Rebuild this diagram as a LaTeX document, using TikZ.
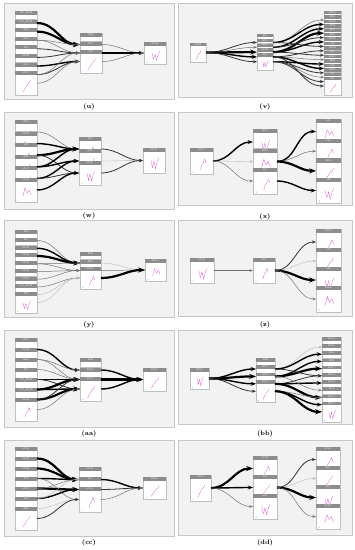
\documentclass[tikz,border=0pt]{standalone}
\usetikzlibrary{arrows.meta}
\definecolor{magp}{RGB}{220,70,200}
\definecolor{cyp}{RGB}{60,160,230}
\definecolor{hdrg}{RGB}{140,140,140}
\def\hh{4}
\tikzset{
 gbox/.style={draw=black!25, line width=0.3pt, fill=white, inner sep=0pt, outer sep=0pt},
 ghdr/.style={fill=hdrg, inner sep=0pt, outer sep=0pt, minimum height=\hh pt, text=white,
   font=\fontsize{2.3}{2.5}\selectfont\sffamily, text height=1.6pt, text depth=0.3pt},
 magplot/.style={draw=magp, line width=0.4pt, dash pattern=on 0.6pt off 0.5pt},
 panel/.style={fill=black!5, draw=black!22, line width=0.7pt},
 captext/.style={font=\fontsize{6.5}{7.5}\selectfont\bfseries, inner sep=0pt},
 edgebase/.style={-{Stealth[length=2.6pt 1.9]}},
 edgeA/.style={edgebase, line width=0.35pt, draw=black!30},
 edgeB/.style={edgebase, line width=0.5pt, draw=black!55},
 edgeC/.style={edgebase, line width=0.8pt, draw=black!80},
 edgeD/.style={edgebase, line width=1.4pt, draw=black},
 edgeE/.style={edgebase, line width=2.2pt, draw=black},
}
\newcommand\gplot[4]{%
 \begin{scope}[shift={(#1.south west)}, xscale={#3/22}, yscale={(#4-\hh)/20}]
  \ifcase#2\relax
   \draw[magplot] (8,-3)--(9.5,-6)--(11,-8)--(12.5,-11)--(14,-12)--(15.5,-15);
  \or
   \draw[magplot] (8,-12)--(9.5,-5)--(11,-11)--(12.5,-4)--(14,-10)--(15.5,-14);
  \or
   \draw[magplot] (8,-6)--(10,-14)--(12,-9)--(14,-12)--(16,-7);
  \else
   \draw[magplot] (10,-4)--(11,-8)--(12.5,-10)--(14,-14)--(15.5,-10);
  \fi
  \fill[cyp] (3,-1.8) circle[radius=0.45];
 \end{scope}}
\newcommand\gnode[7]{%
 \node[gbox, minimum width=#4pt, minimum height=#5pt, anchor=north west] (#1) at (#2,#3) {};
 \gplot{#1}{#7}{#4}{#5}
 \node[ghdr, minimum width=#4pt, anchor=north west] at (#1.north west) {#6};}
\newcommand\gedge[3]{\draw[#1] (#2.east) to[out=0,in=180] (#3.west);}
\begin{document}
\begin{tikzpicture}[x=1pt, y=-1pt]
\useasboundingbox (0,0) rectangle (355,550);
\fill[white] (0,0) rectangle (355,550);
% panels
\draw[panel] (4,3) rectangle (174,99);
\draw[panel] (178,3) rectangle (352,97);
\draw[panel] (4,112) rectangle (174,209);
\draw[panel] (178,112) rectangle (352,205);
\draw[panel] (4,220) rectangle (174,317);
\draw[panel] (178,220) rectangle (352,316);
\draw[panel] (4,330) rectangle (174,427);
\draw[panel] (178,330) rectangle (352,424);
\draw[panel] (4,440) rectangle (174,536);
\draw[panel] (178,440) rectangle (352,535);
\node[captext] (cu) at (89,107) {(u)};
\node[captext] (cv) at (265,107) {(v)};
\node[captext] (cw) at (89,216) {(w)};
\node[captext] (cx) at (265,217) {(x)};
\node[captext] (cy) at (89,325) {(y)};
\node[captext] (cz) at (265,325) {(z)};
\node[captext] (caa) at (89,434) {(aa)};
\node[captext] (cbb) at (265,434) {(bb)};
\node[captext] (ccc) at (89,543) {(cc)};
\node[captext] (cdd) at (265,543) {(dd)};

% ===== (u)
\def\hh{4}
\foreach \lab [count=\i, evaluate=\i as \v using {int(mod(\i,4))}] in {OLT\_PAHS,OLT\_OPHS,SP50,SP12,SP9,SP104,SP14,SP117}
 {\gnode{u-L\i}{15}{{11+8.6*(\i-1)}}{22}{24}{\lab}{\v}}
\foreach \lab [count=\i, evaluate=\i as \v using {int(mod(\i+1,4))}] in {SP59,SP17,SP1}
 {\gnode{u-M\i}{80}{{33+8.5*(\i-1)}}{22}{23}{\lab}{\v}}
\gnode{u-R1}{144}{42}{22}{22}{SP116}{1}
\gedge{edgeE}{u-L1}{u-M1}
\gedge{edgeE}{u-L2}{u-M1}
\gedge{edgeB}{u-L3}{u-M1}
\gedge{edgeB}{u-L3}{u-M2}
\gedge{edgeC}{u-L4}{u-M2}
\gedge{edgeC}{u-L5}{u-M2}
\gedge{edgeD}{u-L6}{u-M3}
\gedge{edgeC}{u-L7}{u-M3}
\gedge{edgeB}{u-L7}{u-M2}
\gedge{edgeB}{u-L8}{u-M3}
\gedge{edgeB}{u-M1}{u-R1}
\gedge{edgeD}{u-M2}{u-R1}
\gedge{edgeB}{u-M3}{u-R1}

% ===== (v)
\def\hh{3.4}
\gnode{v-L1}{190}{43}{16}{19}{SP115}{0}
\foreach \lab [count=\i, evaluate=\i as \v using {int(mod(\i,4))}] in {SP3,SP17,SP16,SP100,SP6}
 {\gnode{v-M\i}{257}{{34+4.8*(\i-1)}}{16}{17}{\lab}{\v}}
\foreach \lab [count=\i, evaluate=\i as \v using {int(mod(\i,4))}] in {SP111,SP58,SP107,SP26,SP67,SP20,SP112,SP4,SP108,SP8,SP117,SP50,SP5,SP12,SP1,SP9}
 {\gnode{v-R\i}{324}{{11+4.4*(\i-1)}}{17}{18}{\lab}{\v}}
\gedge{edgeC}{v-L1}{v-M1}
\gedge{edgeB}{v-L1}{v-M2}
\gedge{edgeE}{v-L1}{v-M3}
\gedge{edgeD}{v-L1}{v-M4}
\gedge{edgeC}{v-L1}{v-M5}
\gedge{edgeB}{v-M1}{v-R1}
\gedge{edgeD}{v-M1}{v-R2}
\gedge{edgeD}{v-M2}{v-R3}
\gedge{edgeE}{v-M3}{v-R4}
\gedge{edgeC}{v-M2}{v-R5}
\gedge{edgeD}{v-M3}{v-R6}
\gedge{edgeC}{v-M1}{v-R7}
\gedge{edgeC}{v-M4}{v-R8}
\gedge{edgeC}{v-M3}{v-R9}
\gedge{edgeB}{v-M4}{v-R10}
\gedge{edgeD}{v-M5}{v-R11}
\gedge{edgeD}{v-M4}{v-R12}
\gedge{edgeC}{v-M5}{v-R13}
\gedge{edgeB}{v-M5}{v-R14}
\gedge{edgeC}{v-M5}{v-R15}
\gedge{edgeC}{v-M4}{v-R16}

% ===== (w)
\def\hh{4}
\foreach \lab [count=\i, evaluate=\i as \v using {int(mod(\i,4))}] in {SP26,SP112,SP9,SP62,SP117,SP110}
 {\gnode{w-L\i}{15}{{120+11.6*(\i-1)}}{22}{24}{\lab}{\v}}
\foreach \lab [count=\i, evaluate=\i as \v using {int(mod(\i+2,4))}] in {SP4,SP50,SP117}
 {\gnode{w-M\i}{79}{{137+12*(\i-1)}}{22}{24}{\lab}{\v}}
\gnode{w-R1}{143}{148}{22}{25}{SP111}{1}
\gedge{edgeB}{w-L1}{w-M1}
\gedge{edgeD}{w-L2}{w-M1}
\gedge{edgeE}{w-L3}{w-M1}
\gedge{edgeC}{w-L3}{w-M3}
\gedge{edgeD}{w-L4}{w-M1}
\gedge{edgeD}{w-L4}{w-M2}
\gedge{edgeD}{w-L5}{w-M2}
\gedge{edgeC}{w-L5}{w-M3}
\gedge{edgeD}{w-L6}{w-M3}
\gedge{edgeC}{w-M1}{w-R1}
\gedge{edgeA}{w-M2}{w-R1}
\gedge{edgeC}{w-M3}{w-R1}

% ===== (x)
\def\hh{4.3}
\gnode{x-L1}{190}{148}{23}{26}{SP111}{3}
\foreach \lab [count=\i, evaluate=\i as \v using {int(mod(\i,4))}] in {SP26,SP50,SP8}
 {\gnode{x-M\i}{253}{{129+19.5*(\i-1)}}{24}{26}{\lab}{\v}}
\foreach \lab [count=\i, evaluate=\i as \v using {int(mod(\i+1,4))}] in {SP1,SP2,SP51,SP8}
 {\gnode{x-R\i}{316}{{119+19.67*(\i-1)}}{25}{25}{\lab}{\v}}
\gedge{edgeD}{x-L1}{x-M1}
\gedge{edgeA}{x-L1}{x-M2}
\gedge{edgeB}{x-L1}{x-M3}
\gedge{edgeD}{x-M2}{x-R1}
\gedge{edgeB}{x-M2}{x-R2}
\gedge{edgeE}{x-M2}{x-R3}
\gedge{edgeD}{x-M3}{x-R4}

% ===== (y)
\def\hh{4}
\foreach \lab [count=\i, evaluate=\i as \v using {int(mod(\i,4))}] in {SP8,SP7,SP110,SP112,SP111,SP114,SP117,OLT\_OPHS,SP9}
 {\gnode{y-L\i}{15}{{230+7.75*(\i-1)}}{22}{21}{\lab}{\v}}
\foreach \lab [count=\i, evaluate=\i as \v using {int(mod(\i,4))}] in {SP26,SP50,SP116}
 {\gnode{y-M\i}{80}{{252+7.5*(\i-1)}}{21}{22}{\lab}{\v}}
\gnode{y-R1}{145}{259}{21}{22}{SP112}{2}
\gedge{edgeB}{y-L1}{y-M1}
\gedge{edgeD}{y-L2}{y-M1}
\gedge{edgeE}{y-L3}{y-M1}
\gedge{edgeB}{y-L4}{y-M1}
\gedge{edgeB}{y-L4}{y-M2}
\gedge{edgeB}{y-L5}{y-M2}
\gedge{edgeB}{y-L6}{y-M2}
\gedge{edgeB}{y-L7}{y-M3}
\gedge{edgeA}{y-L8}{y-M3}
\gedge{edgeA}{y-L9}{y-M3}
\gedge{edgeA}{y-M1}{y-R1}
\gedge{edgeB}{y-M2}{y-R1}
\gedge{edgeE}{y-M3}{y-R1}

% ===== (z)
\def\hh{4.3}
\gnode{z-L1}{190}{258}{24}{25}{SP112}{1}
\gnode{z-M1}{253}{258}{22}{25}{SP1}{3}
\foreach \lab [count=\i, evaluate=\i as \v using {int(mod(\i+2,4))}] in {SP121,SP2,SP3,SP108}
 {\gnode{z-R\i}{316}{{229+19*(\i-1)}}{25}{26}{\lab}{\v}}
\gedge{edgeB}{z-L1}{z-M1}
\gedge{edgeC}{z-M1}{z-R1}
\gedge{edgeA}{z-M1}{z-R2}
\gedge{edgeE}{z-M1}{z-R3}
\gedge{edgeB}{z-M1}{z-R4}

% ===== (aa)
\def\hh{4}
\foreach \lab [count=\i, evaluate=\i as \v using {int(mod(\i,4))}] in {SP17,SP116,SP50,SP1,OLT\_PAHS,OLT\_OPHS,SP118}
 {\gnode{aa-L\i}{15}{{338+10*(\i-1)}}{22}{23}{\lab}{\v}}
\foreach \lab [count=\i, evaluate=\i as \v using {int(mod(\i+1,4))}] in {SP59,SP116,SP117}
 {\gnode{aa-M\i}{80}{{358+9.5*(\i-1)}}{21}{24}{\lab}{\v}}
\gnode{aa-R1}{143}{368}{23}{23}{SP113}{0}
\gedge{edgeD}{aa-L1}{aa-M1}
\gedge{edgeB}{aa-L2}{aa-M1}
\gedge{edgeB}{aa-L2}{aa-M2}
\gedge{edgeB}{aa-L3}{aa-M2}
\gedge{edgeD}{aa-L4}{aa-M2}
\gedge{edgeC}{aa-L4}{aa-M3}
\gedge{edgeE}{aa-L5}{aa-M2}
\gedge{edgeD}{aa-L5}{aa-M3}
\gedge{edgeE}{aa-L6}{aa-M3}
\gedge{edgeC}{aa-L6}{aa-M2}
\gedge{edgeB}{aa-L7}{aa-M3}
\gedge{edgeD}{aa-M1}{aa-R1}
\gedge{edgeE}{aa-M2}{aa-R1}
\gedge{edgeD}{aa-M3}{aa-R1}

% ===== (bb)
\def\hh{3.5}
\gnode{bb-L1}{190}{368}{19}{21}{SP113}{1}
\foreach \lab [count=\i, evaluate=\i as \v using {int(mod(\i,4))}] in {SP59,SP117,SP116,SP110}
 {\gnode{bb-M\i}{256}{{358+7.4*(\i-1)}}{19}{22}{\lab}{\v}}
\foreach \lab [count=\i, evaluate=\i as \v using {int(mod(\i+3,4))}] in {SP110,SP121,SP58,SP59,SP117,SP115,SP116,SP13,SP121,SP117}
 {\gnode{bb-R\i}{322}{{337+7.2*(\i-1)}}{19}{20}{\lab}{\v}}
\gedge{edgeD}{bb-L1}{bb-M1}
\gedge{edgeE}{bb-L1}{bb-M2}
\gedge{edgeD}{bb-L1}{bb-M3}
\gedge{edgeC}{bb-L1}{bb-M4}
\gedge{edgeA}{bb-M1}{bb-R1}
\gedge{edgeD}{bb-M1}{bb-R2}
\gedge{edgeD}{bb-M2}{bb-R3}
\gedge{edgeE}{bb-M2}{bb-R4}
\gedge{edgeC}{bb-M3}{bb-R5}
\gedge{edgeC}{bb-M1}{bb-R5}
\gedge{edgeD}{bb-M3}{bb-R6}
\gedge{edgeB}{bb-M2}{bb-R7}
\gedge{edgeE}{bb-M3}{bb-R8}
\gedge{edgeB}{bb-M4}{bb-R8}
\gedge{edgeD}{bb-M4}{bb-R9}
\gedge{edgeE}{bb-M4}{bb-R10}

% ===== (cc)
\def\hh{4}
\foreach \lab [count=\i, evaluate=\i as \v using {int(mod(\i+1,4))}] in {SP118,SP121,SP108,SP1,SP117,SP3,SP59}
 {\gnode{cc-L\i}{15}{{447+10*(\i-1)}}{22}{23}{\lab}{\v}}
\foreach \lab [count=\i, evaluate=\i as \v using {int(mod(\i,4))}] in {SP119,SP1,SP111}
 {\gnode{cc-M\i}{79}{{467+10*(\i-1)}}{22}{25}{\lab}{\v}}
\gnode{cc-R1}{143}{477}{23}{22}{SP114}{0}
\gedge{edgeE}{cc-L1}{cc-M1}
\gedge{edgeE}{cc-L2}{cc-M1}
\gedge{edgeD}{cc-L3}{cc-M1}
\gedge{edgeB}{cc-L3}{cc-M3}
\gedge{edgeE}{cc-L4}{cc-M2}
\gedge{edgeB}{cc-L4}{cc-M1}
\gedge{edgeD}{cc-L5}{cc-M2}
\gedge{edgeA}{cc-L5}{cc-M1}
\gedge{edgeA}{cc-L6}{cc-M3}
\gedge{edgeC}{cc-L7}{cc-M3}
\gedge{edgeD}{cc-M1}{cc-R1}
\gedge{edgeC}{cc-M2}{cc-R1}
\gedge{edgeB}{cc-M3}{cc-R1}

% ===== (dd)
\def\hh{4.3}
\gnode{dd-L1}{190}{475}{21}{26}{SP114}{0}
\foreach \lab [count=\i, evaluate=\i as \v using {int(mod(\i+2,4))}] in {SP124,SP1,SP2}
 {\gnode{dd-M\i}{253}{{456+19*(\i-1)}}{24}{25}{\lab}{\v}}
\foreach \lab [count=\i, evaluate=\i as \v using {int(mod(\i+2,4))}] in {SP121,SP2,SP3,SP108}
 {\gnode{dd-R\i}{316}{{447+19*(\i-1)}}{24}{25}{\lab}{\v}}
\gedge{edgeE}{dd-L1}{dd-M1}
\gedge{edgeD}{dd-L1}{dd-M2}
\gedge{edgeB}{dd-L1}{dd-M3}
\gedge{edgeC}{dd-M2}{dd-R1}
\gedge{edgeA}{dd-M2}{dd-R2}
\gedge{edgeE}{dd-M2}{dd-R3}
\gedge{edgeB}{dd-M2}{dd-R4}
\end{tikzpicture}
\end{document}
